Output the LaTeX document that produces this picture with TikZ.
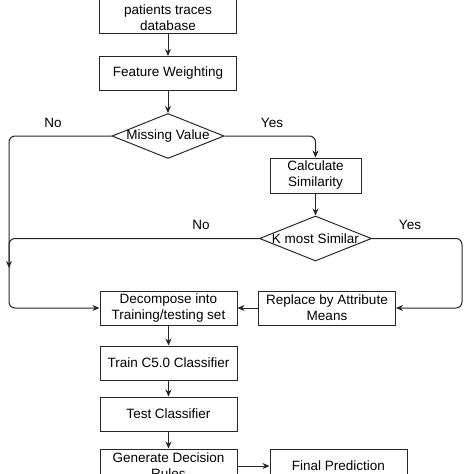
\documentclass[tikz,border=0pt]{standalone}
\usepackage{fontspec}
\setmainfont{Liberation Sans}
\usetikzlibrary{shapes.geometric,arrows.meta}
\begin{document}
\begin{tikzpicture}[x=1pt,y=-1pt,
    font=\fontsize{13.5}{16}\selectfont,
    stage/.style={draw=black!85,line width=1pt,minimum width=137,minimum height=34,inner sep=0,align=center},
    choice/.style={draw=black!85,line width=1pt,diamond,minimum width=112,minimum height=45,inner sep=0},
    flow/.style={draw=black!85,line width=1pt,-{Stealth[length=7pt,width=6pt]}},
    tag/.style={inner sep=0}]
  \useasboundingbox (0,0) rectangle (474,474);
  \node[stage,minimum height=64] (db) at (168,1) {};
  \node[tag,align=center] (dbtext) at (168,18) {patients traces\\database};
  \node[stage] (fw) at (168,73.5) {Feature Weighting};
  \node[choice] (mv) at (168,136) {\makebox[0pt]{Missing Value}};
  \node[stage,minimum width=91,minimum height=35] (cs) at (315.5,175.5) {Calculate\\Similarity};
  \node[choice] (km) at (315.5,238.5) {\makebox[0pt]{K most Similar}};
  \node[stage] (dt) at (168.5,308) {Decompose into\\Training/testing set};
  \node[stage] (rm) at (327,308) {Replace by Attribute\\Means};
  \node[stage] (tc) at (168.5,363) {Train C5.0 Classifier};
  \node[stage] (ts) at (168.5,414) {Test Classifier};
  \node[stage] (gr) at (168.5,466) {Generate Decision\\Rules};
  \node[stage] (fp) at (338.5,466) {Final Prediction};
  \node[tag] (mvno) at (53,123) {No};
  \node[tag] (mvyes) at (272,123) {Yes};
  \node[tag] (kmno) at (201,225) {No};
  \node[tag] (kmyes) at (410,225) {Yes};
  \coordinate (lftstop) at (9,268);
  \draw[flow] (db) -- (fw);
  \draw[flow] (fw) -- (mv);
  \draw[flow,rounded corners=6] (mv.east) -| (cs.north);
  \draw[flow,rounded corners=6] (mv.west) -- (9,136) -- (9,308) -- (dt.west);
  \draw[flow] (cs) -- (km);
  \draw[flow,rounded corners=6] (km.west) -- (9,238.5) -- (lftstop);
  \draw[flow,rounded corners=6] (km.east) -- (462,238.5) -- (462,308) -- (rm.east);
  \draw[flow] (rm) -- (dt);
  \draw[flow] (dt) -- (tc);
  \draw[flow] (tc) -- (ts);
  \draw[flow] (ts) -- (gr);
  \draw[flow] (gr) -- (fp);
\end{tikzpicture}
\end{document}
